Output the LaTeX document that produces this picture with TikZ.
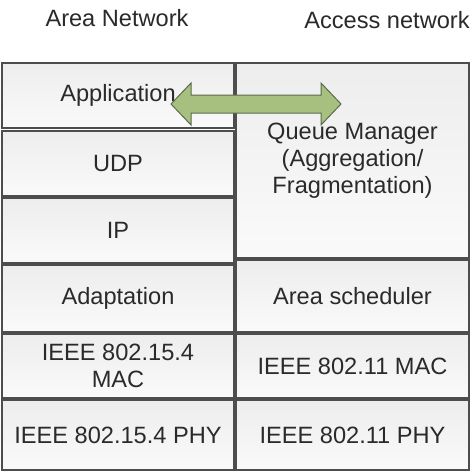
\documentclass[tikz,border=0pt]{standalone}
\usepackage{fontspec}
\setmainfont{Liberation Sans}
\usetikzlibrary{positioning}
\definecolor{edge}{HTML}{4D4D4D}
\definecolor{txt}{HTML}{2A2A2A}
\definecolor{gtop}{HTML}{EDEDED}
\definecolor{gbot}{HTML}{FAFAFA}
\definecolor{arrfill}{HTML}{A7BF7F}
\definecolor{arredge}{HTML}{5E6A4C}
\tikzset{
  layer/.style={draw=edge, line width=1.5pt, top color=gtop, bottom color=gbot,
    inner sep=0pt, align=center, text=txt, font=\fontsize{23.6}{27}\selectfont},
  head/.style={inner sep=0pt, text=txt, font=\fontsize{23.6}{27}\selectfont},
}
\begin{document}
\begin{tikzpicture}[x=1pt,y=-1pt]
\useasboundingbox[fill=white] (0,0) rectangle (474,474);
\node[head] (hl) at (117,18) {Area Network};
\node[head] (hr) at (387,20) {Access network};
% left column
\node[layer, minimum width=232pt, minimum height=65pt] (app) at (118,95.5) {Application};
\node[layer, minimum width=232pt, minimum height=65pt] (udp) at (118,163.5) {UDP};
\node[layer, minimum width=232pt, minimum height=65pt] (ip) at (118,230.5) {IP};
\node[layer, minimum width=232pt, minimum height=67pt] (adp) at (118,298.5) {Adaptation};
\node[layer, minimum width=232pt, minimum height=64pt] (lmac) at (118,366) {IEEE 802.15.4\\MAC};
\node[layer, minimum width=232pt, minimum height=70pt] (lphy) at (118,435) {IEEE 802.15.4 PHY};
% right column
\node[layer, minimum width=233pt, minimum height=195pt] (qm) at (352.5,160.5) {Queue Manager\\(Aggregation/\\Fragmentation)};
\node[layer, minimum width=233pt, minimum height=72pt] (sch) at (352.5,296) {Area scheduler};
\node[layer, minimum width=233pt, minimum height=64pt] (rmac) at (352.5,366) {IEEE 802.11 MAC};
\node[layer, minimum width=233pt, minimum height=70pt] (rphy) at (352.5,435) {IEEE 802.11 PHY};
% double arrow between Application and Queue Manager
\draw[draw=arredge, fill=arrfill, line width=1pt, line join=miter]
  (171,104) -- (191,83) -- (191,95) -- (321,95) -- (321,83) -- (341,104)
  -- (321,125) -- (321,113) -- (191,113) -- (191,125) -- cycle;
\end{tikzpicture}
\end{document}
